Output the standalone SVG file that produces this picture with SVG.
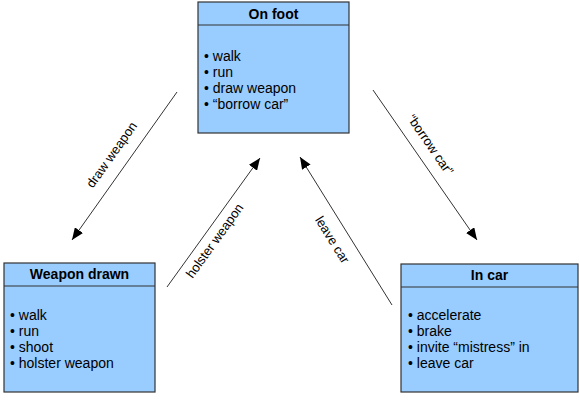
<svg xmlns="http://www.w3.org/2000/svg" width="580" height="413" viewBox="0 0 580 413">
<defs>
<style>
.box{fill:#99ccff;stroke:#333333;stroke-width:1.2}
.hdr{stroke:#333333;stroke-width:1.2}
.title{font-family:"Liberation Sans",Arial,sans-serif;font-size:14px;font-weight:bold;fill:#000;text-anchor:middle}
.item{font-family:"Liberation Sans",Arial,sans-serif;font-size:14px;fill:#000}
.conn{stroke:#333333;stroke-width:1;fill:none;marker-end:url(#arr)}
.lbl{font-family:"Liberation Sans",Arial,sans-serif;font-size:13px;fill:#000;text-anchor:middle}
</style>
<marker id="arr" viewBox="0 0 12 10" refX="12" refY="5" markerWidth="12" markerHeight="10" markerUnits="userSpaceOnUse" orient="auto">
<path d="M0,0 L12,5 L0,10 Z" fill="#000"/>
</marker>
</defs>
<rect width="580" height="413" fill="#ffffff"/>
<g id="onfoot">
<rect class="box" x="198" y="2" width="151" height="131"/>
<line class="hdr" x1="198" y1="25" x2="349" y2="25"/>
<text class="title" x="273.5" y="19">On foot</text>
<text class="item" x="204" y="61">• walk</text>
<text class="item" x="204" y="77">• run</text>
<text class="item" x="204" y="93">• draw weapon</text>
<text class="item" x="204" y="109">• “borrow car”</text>
</g>
<g id="weapondrawn">
<rect class="box" x="4" y="263" width="151" height="129"/>
<line class="hdr" x1="4" y1="286" x2="155" y2="286"/>
<text class="title" x="79.5" y="279">Weapon drawn</text>
<text class="item" x="10" y="320">• walk</text>
<text class="item" x="10" y="336">• run</text>
<text class="item" x="10" y="352">• shoot</text>
<text class="item" x="10" y="368">• holster weapon</text>
</g>
<g id="incar">
<rect class="box" x="401" y="264" width="177" height="128"/>
<line class="hdr" x1="401" y1="287" x2="578" y2="287"/>
<text class="title" x="489.5" y="280">In car</text>
<text class="item" x="408" y="320">• accelerate</text>
<text class="item" x="408" y="336">• brake</text>
<text class="item" x="408" y="352">• invite “mistress” in</text>
<text class="item" x="408" y="368">• leave car</text>
</g>
<g id="connectors">
<line class="conn" x1="177" y1="92" x2="72" y2="240"/>
<line class="conn" x1="167" y1="287" x2="260" y2="158"/>
<line class="conn" x1="392" y1="305" x2="300" y2="157"/>
<line class="conn" x1="373" y1="90" x2="477" y2="240"/>
<text class="lbl" transform="translate(112,155) rotate(-54.6)" x="0" y="4">draw weapon</text>
<text class="lbl" transform="translate(215,241) rotate(-54.2)" x="0" y="4">holster weapon</text>
<text class="lbl" transform="translate(332,240) rotate(58)" x="0" y="4">leave car</text>
<text class="lbl" transform="translate(430,145) rotate(55.3)" x="0" y="4">“borrow car”</text>
</g>
</svg>
